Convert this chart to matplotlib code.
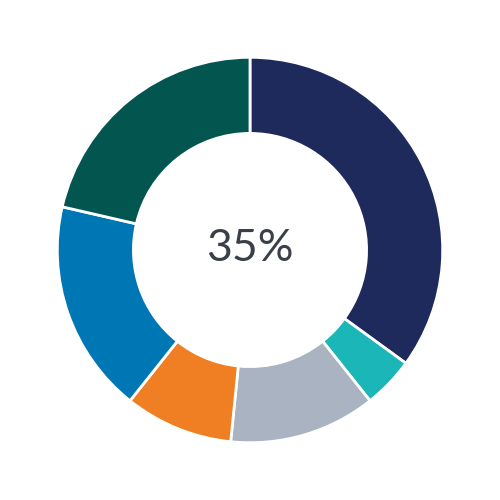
import matplotlib
matplotlib.use("Agg")
import matplotlib.pyplot as plt

# slice shares, clockwise from 12 o'clock
labels = ["Navy", "Teal", "Gray", "Orange", "Blue", "Green"]
shares = [35.0, 4.3, 12.3, 9.1, 17.9, 21.4]
colors = ["#1e2a5b", "#1bb6b8", "#a9b3c1", "#f07e22", "#0077b5", "#03564f"]
center_label = "35%"

fig = plt.figure(figsize=(5, 5), dpi=100)
ax = fig.add_axes([0, 0, 1, 1])
ax.pie(shares, colors=colors, startangle=90, counterclock=False,
       radius=1.0, wedgeprops=dict(width=0.395, edgecolor="white", linewidth=2))
ax.text(0, 0.006, center_label, ha="center", va="center", fontsize=32,
        color="#3b3f48", family=["Lato", "DejaVu Sans"])
lim = 250 / 192.7
ax.set_xlim(-lim, lim)
ax.set_ylim(-lim, lim)
ax.set_aspect("equal")
ax.axis("off")
fig.savefig("out.png", dpi=100, facecolor="white")
